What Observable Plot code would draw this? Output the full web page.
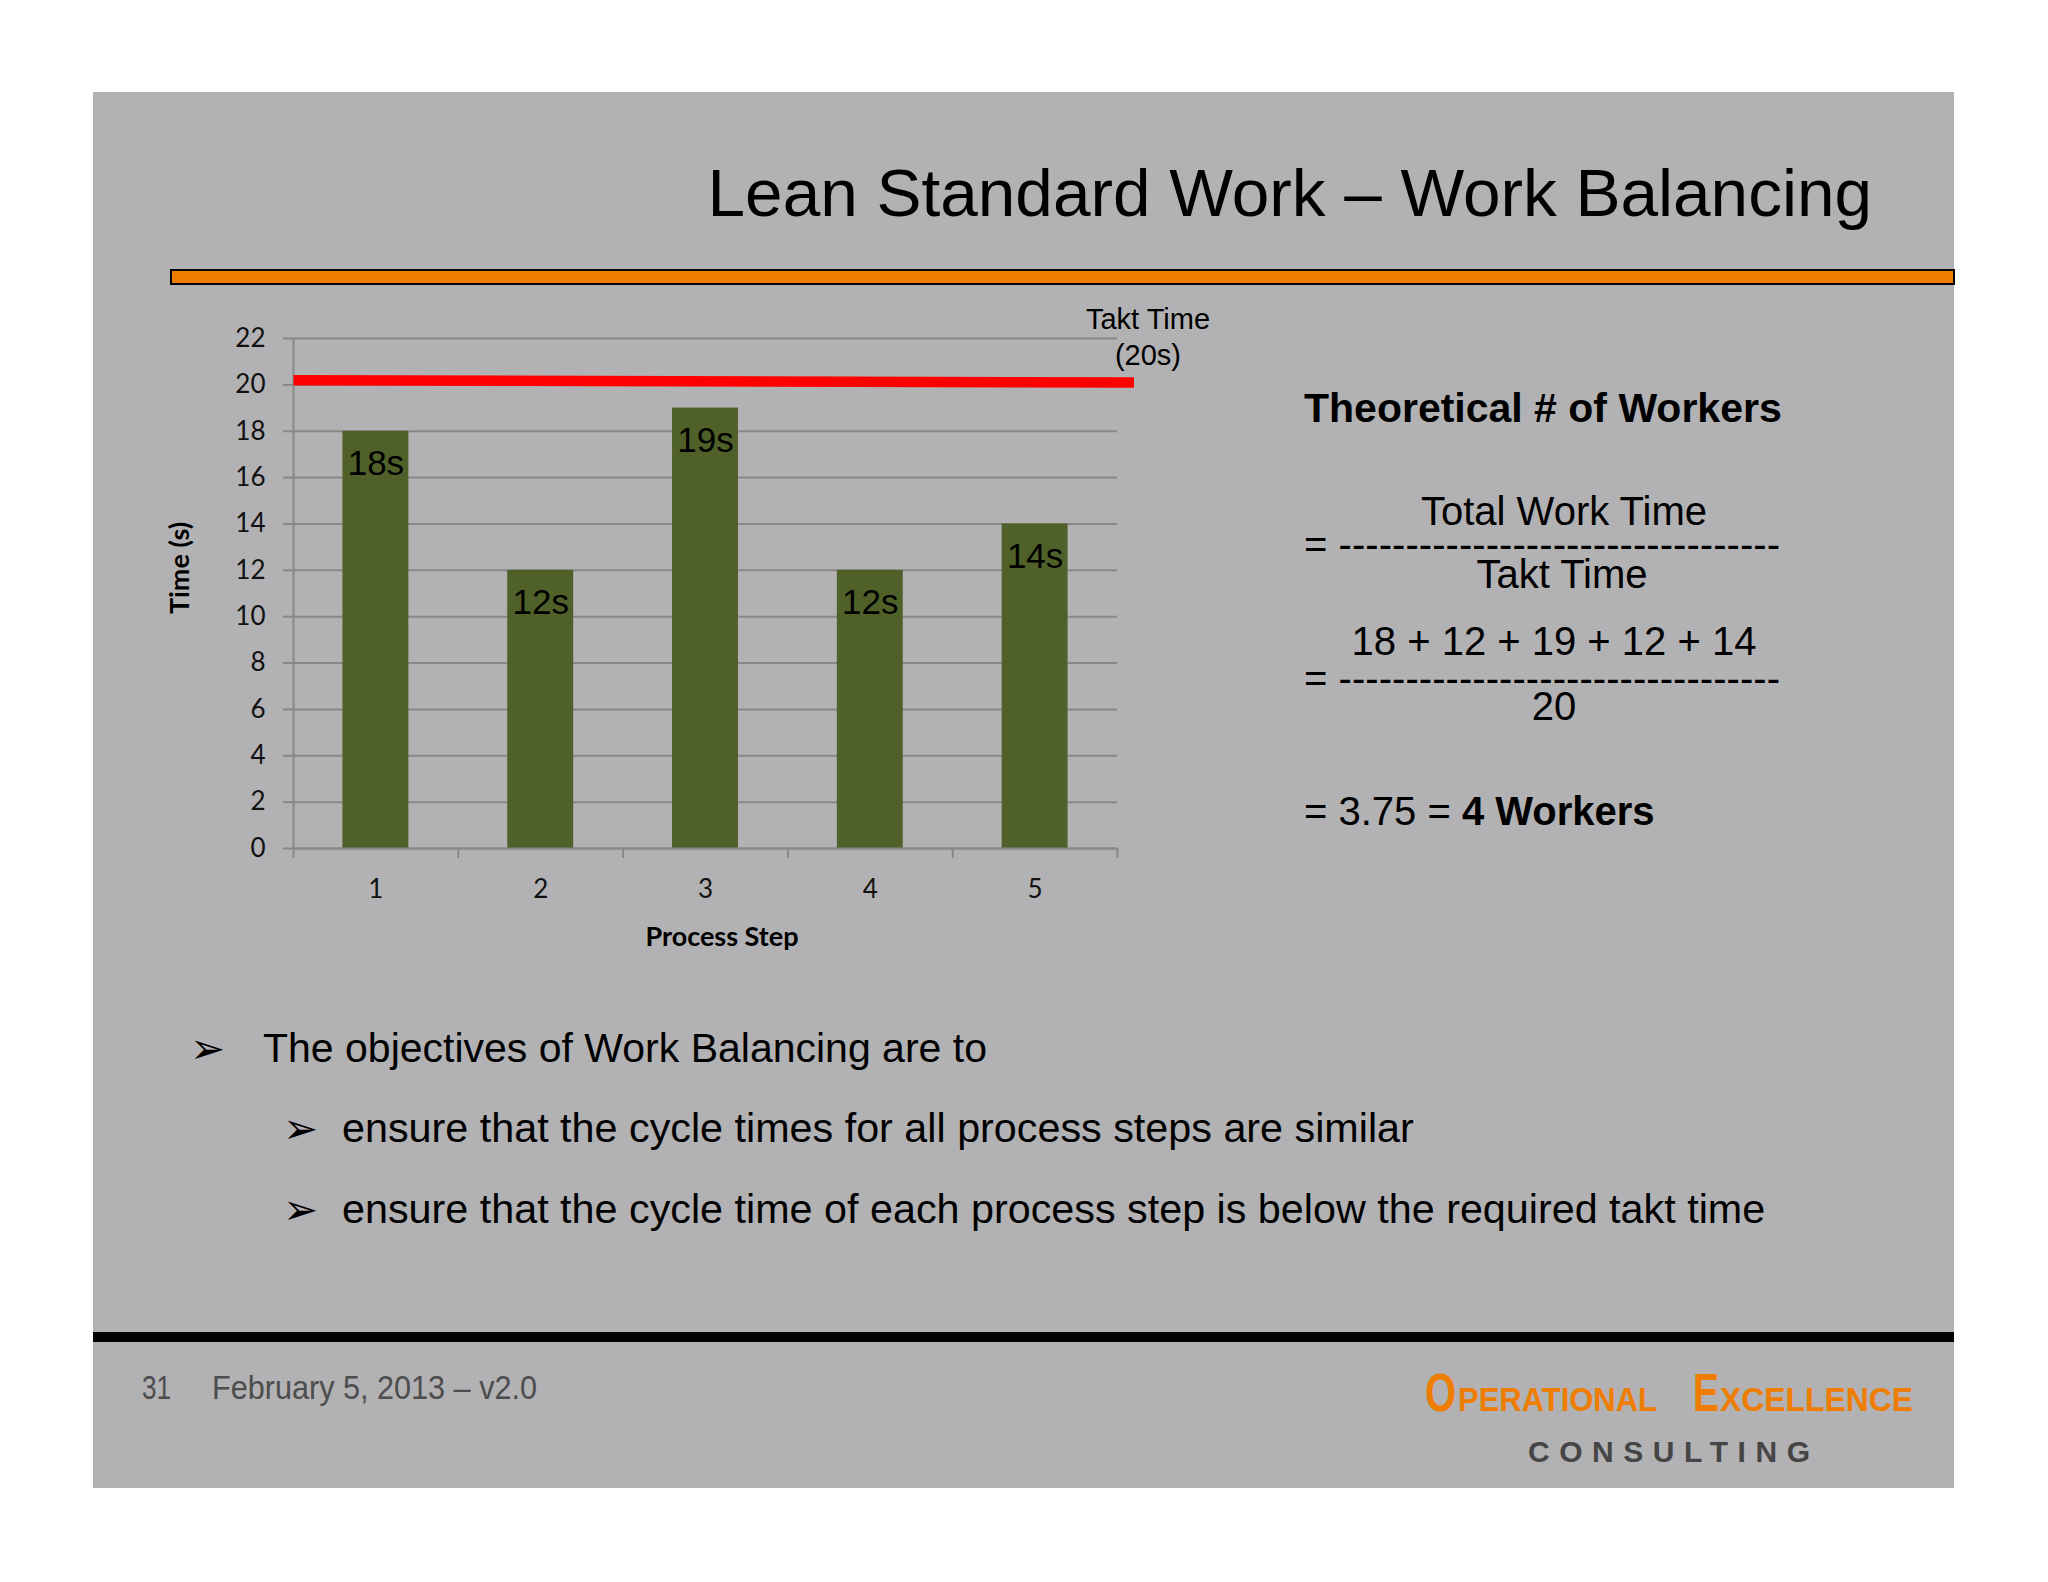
<!DOCTYPE html>
<html><head><meta charset="utf-8">
<script src="https://cdn.jsdelivr.net/npm/d3@7"></script>
<script src="https://cdn.jsdelivr.net/npm/@observablehq/plot@0.6"></script>
<style>
html,body{margin:0;padding:0;background:#fff;}
#page{position:relative;width:2048px;height:1582px;overflow:hidden;background:#fff;}
#deco{position:absolute;left:0;top:0;}
#chart{position:absolute;left:100px;top:280px;}
</style></head>
<body><div id="page"><svg id="deco" width="2048" height="1582"></svg><div id="chart"></div></div>
<script>
// ---- data ----
const steps = [1, 2, 3, 4, 5];
const stepTimes = [18, 12, 19, 12, 14];
const timeUnit = "s";
const yTicks = [0, 2, 4, 6, 8, 10, 12, 14, 16, 18, 20, 22];
const taktLineSteps = [0.5, 5.6];
const taktLineTimes = [20.2, 20.1];
const taktLabel = "Takt Time\n(20s)";
const yLabel = "Time (s)";
const xLabel = "Process Step";
const slideTitle = "Lean Standard Work \u2013 Work Balancing";
const formulaTitle = "Theoretical # of Workers";
const formulaLines = ["Total Work Time", "Takt Time", "18 + 12 + 19 + 12 + 14", "20"];
const dashLine = "= ---------------------------------";
const resultPlain = "= 3.75 = ";
const resultBold = "4 Workers";
const bulletMain = "The objectives of Work Balancing are to";
const bulletSubs = [
  "ensure that the cycle times for all process steps are similar",
  "ensure that the cycle time of each process step is below the required takt time"
];
const footerPage = "31";
const footerDate = "February 5, 2013 \u2013 v2.0";

// ---- decoration / slide text ----
const deco = d3.select("#deco");
const AR = "'Liberation Sans', Arial, sans-serif";
const CAL = "Lato, 'Open Sans', sans-serif";
deco.append("rect").attr("x", 93).attr("y", 92).attr("width", 1861).attr("height", 1396).attr("fill", "#b2b1b3");
deco.append("rect").attr("x", 171).attr("y", 270).attr("width", 1783).attr("height", 14)
  .attr("fill", "#ee7d00").attr("stroke", "#000").attr("stroke-width", 2);
deco.append("rect").attr("x", 93).attr("y", 1332).attr("width", 1861).attr("height", 10).attr("fill", "#000");

function txt(x, y, s, o = {}) {
  const t = deco.append("text").attr("x", x).attr("y", y)
    .attr("font-family", o.family || AR).attr("font-size", o.size || 40)
    .attr("font-weight", o.weight || "normal").attr("fill", o.fill || "#000")
    .attr("text-anchor", o.anchor || "start").text(s);
  if (o.len) t.attr("textLength", o.len).attr("lengthAdjust", o.adjust || "spacingAndGlyphs");
  if (o.transform) t.attr("transform", o.transform);
  return t;
}

txt(1872, 216, slideTitle, {size: 67.5, anchor: "end"});

// axis titles
txt(0, 0, yLabel, {family: CAL, size: 27, weight: "bold", anchor: "middle", transform: "translate(189,568) rotate(-90)"});
txt(722, 946, xLabel, {family: CAL, size: 27, weight: "bold", anchor: "middle"});

// formula block
txt(1304, 422, formulaTitle, {size: 41, weight: "bold"});
txt(1564, 525, formulaLines[0], {size: 40, anchor: "middle"});
txt(1304, 558, dashLine, {size: 40, len: 476, adjust: "spacing"});
txt(1562, 588, formulaLines[1], {size: 40, anchor: "middle"});
txt(1554, 655, formulaLines[2], {size: 40, anchor: "middle"});
txt(1304, 692, dashLine, {size: 40, len: 476, adjust: "spacing"});
txt(1554, 720, formulaLines[3], {size: 40, anchor: "middle"});
const res = txt(1304, 825, resultPlain, {size: 40});
res.append("tspan").attr("font-weight", "bold").text(resultBold);

// bullets
const ARROW = "\u27A2";
const AF = "'DejaVu Sans', sans-serif";
txt(190, 1063, ARROW, {family: AF, size: 42});
txt(263, 1062, bulletMain, {size: 41});
txt(283, 1143, ARROW, {family: AF, size: 42});
txt(342, 1142, bulletSubs[0], {size: 41.3});
txt(283, 1224, ARROW, {family: AF, size: 42});
txt(342, 1223, bulletSubs[1], {size: 41.3});

// footer
txt(142, 1399, footerPage, {size: 33, fill: "#4d4d4d", len: 29});
txt(212, 1399, footerDate, {size: 33, fill: "#4d4d4d", len: 325});
const OR = "#ee7d00";
txt(1425, 1411, "O", {size: 54, weight: "bold", fill: OR, len: 31});
txt(1458, 1411, "PERATIONAL", {size: 33, weight: "bold", fill: OR, len: 199});
txt(1693, 1411, "E", {size: 54, weight: "bold", fill: OR, len: 26});
txt(1720, 1411, "XCELLENCE", {size: 33, weight: "bold", fill: OR, len: 193});
txt(1528, 1462, "CONSULTING", {size: 30, weight: "bold", fill: "#454545", len: 282, adjust: "spacing"});

// ---- chart ----
const data = steps.map((s, i) => ({step: s, time: stepTimes[i]}));
const takt = taktLineSteps.map((s, i) => ({step: s, time: taktLineTimes[i]}));
const barHalf = 0.2;
const boundaries = d3.range(steps[0] - 0.5, steps[steps.length - 1] + 1, 1);
const GRID = "#888888";

const chart = Plot.plot({
  width: 1160, height: 700,
  marginLeft: 193, marginTop: 58, marginRight: 143, marginBottom: 132,
  style: {background: "transparent", overflow: "visible", fontFamily: CAL},
  x: {type: "linear", domain: [steps[0] - 0.5, steps[steps.length - 1] + 0.5], axis: null},
  y: {domain: [0, 22], axis: null},
  marks: [
    Plot.gridY(yTicks, {stroke: GRID, strokeOpacity: 1, strokeWidth: 2}),
    Plot.axisY(yTicks, {tickSize: 10, tickPadding: 18, stroke: GRID, strokeWidth: 2, fill: "#111", fontSize: 26, label: null}),
    Plot.rectY(data, {x1: d => d.step - barHalf, x2: d => d.step + barHalf, y: "time", fill: "#4f6128"}),
    Plot.ruleX([steps[0] - 0.5], {stroke: GRID, strokeWidth: 2}),
    Plot.ruleY([0], {stroke: GRID, strokeWidth: 2}),
    Plot.axisX(boundaries, {tickSize: 10, tickFormat: () => "", stroke: GRID, strokeWidth: 2, label: null}),
    Plot.axisX(steps, {tickSize: 0, tickPadding: 31, fontSize: 26, fill: "#111", label: null, tickFormat: d => String(d)}),
    Plot.text(data, {x: "step", y: "time", text: d => d.time + timeUnit, lineAnchor: "top", dy: 19,
      fontSize: 35, fontFamily: AR, fill: "#000"}),
    Plot.line(takt, {x: "step", y: "time", stroke: "#ff0000", strokeWidth: 10.5, strokeLinecap: "butt"}),
    Plot.text([taktLabel], {x: [taktLineSteps[1]], y: [taktLineTimes[1]], text: d => d, lineAnchor: "bottom",
      lineHeight: 1.24, dx: 14, dy: -18, fontSize: 29, fontFamily: AR, fill: "#000"})
  ]
});
document.getElementById("chart").appendChild(chart);
</script>
</body></html>
